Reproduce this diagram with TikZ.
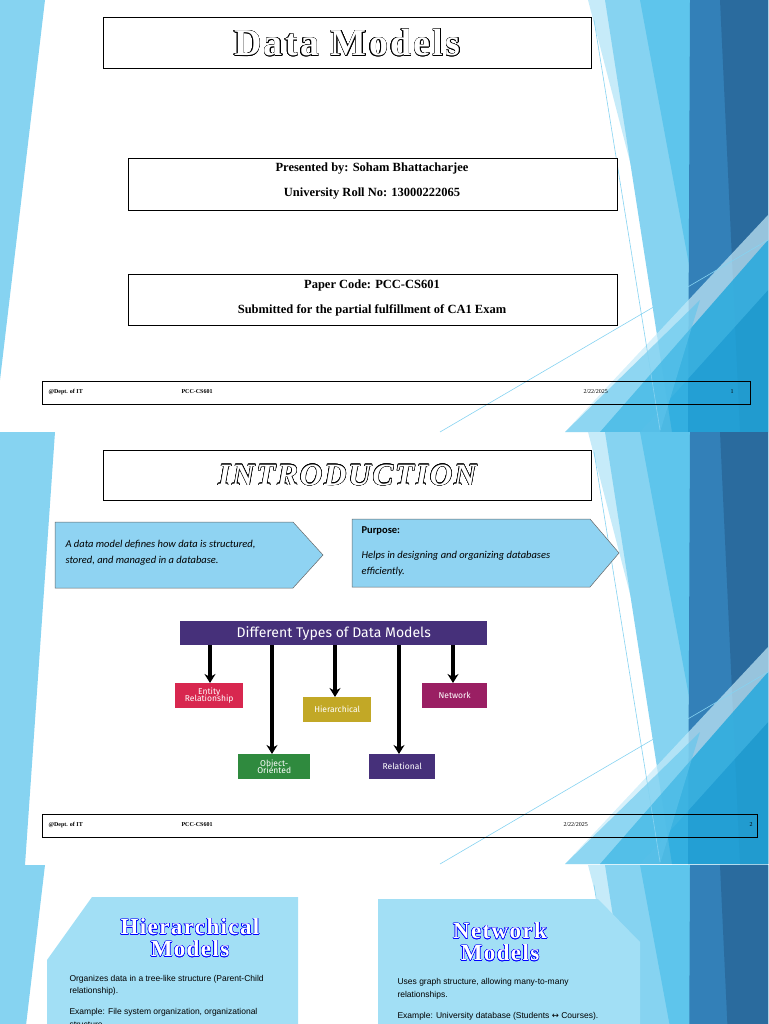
\documentclass[tikz,border=0pt]{standalone}
\usetikzlibrary{arrows.meta}
\usepackage{fontspec}
\setmainfont{Liberation Serif}
\setsansfont{Liberation Sans}
\newfontfamily\carlito{Carlito}
\newfontfamily\fira{Fira Sans}
\newfontfamily\dejavu{DejaVu Sans}
\newfontfamily\wideserif[LetterSpace=6]{Liberation Serif}
\usepackage{contour}
\contourlength{0.5pt}
\contournumber{16}
\definecolor{pale}{HTML}{C6EBF9}
\definecolor{lightb}{HTML}{86D3F1}
\definecolor{midb}{HTML}{5EC5EC}
\definecolor{darkb}{HTML}{2A6B9E}
\definecolor{darkc}{HTML}{3380B8}
\definecolor{cyanb}{HTML}{1FA7DC}
\definecolor{boxb}{HTML}{8FD3F2}
\definecolor{cardb}{HTML}{A2DFF5}
\definecolor{hdr}{HTML}{46307A}
\newcommand\slidedecor[1]{%
\begin{scope}[shift={(0,#1)}]
\fill[lightb] (0,0) -- (45,0) -- (0,380) -- cycle;
\fill[pale] (588,0) -- (768,0) -- (768,432) -- (700,432) -- cycle;
\fill[lightb] (605,0) -- (768,0) -- (768,432) -- (672,432) -- cycle;
\fill[midb] (640,0) -- (768,0) -- (768,432) -- (720,432) -- cycle;
\fill[darkc] (690,0) -- (768,0) -- (768,432) -- (688,432) -- cycle;
\fill[darkb] (720,0) -- (768,0) -- (768,432) -- (740,432) -- cycle;
\fill[pale,opacity=0.7] (565,432) -- (768,215) -- (768,290) -- (640,432) -- cycle;
\fill[cyanb,opacity=0.8] (600,432) -- (768,240) -- (768,432) -- cycle;
\fill[midb,opacity=0.6] (565,432) -- (700,300) -- (660,432) -- cycle;
\draw[lightb,line width=0.6pt] (594,20) -- (660,430);
\draw[lightb,line width=0.6pt] (440,432) -- (768,240);
\end{scope}}
\tikzset{
 frame/.style={draw=black,line width=0.8pt},
 foot/.style={font=\fontsize{6}{7}\selectfont\bfseries,anchor=west},
 tb/.style={font=\fontsize{12.5}{14}\selectfont\bfseries},
 child/.style={minimum height=25pt,text=white,font=\fira\fontsize{8.5}{9}\selectfont,align=center,inner sep=1pt},
 arr/.style={-{Stealth[length=9pt,width=11pt]},line width=3.4pt,black},
 body/.style={font=\sffamily\fontsize{8.5}{10}\selectfont,anchor=west},
 ital/.style={font=\carlito\itshape\fontsize{10.5}{12}\selectfont,anchor=west}
}
\begin{document}
\begin{tikzpicture}[x=1pt,y=-1pt]
\useasboundingbox (0,0) rectangle (768,1024);
\clip (0,0) rectangle (768,1024);
\slidedecor{0}
\slidedecor{432}
\slidedecor{865}
\fill[lightb] (0,432) -- (55,432) -- (25,865) -- (0,865) -- cycle;
% slide 1
\node[frame,minimum width=488pt,minimum height=51pt,anchor=north west,fill=white] (t1) at (103,17) {};
\node[font=\wideserif\fontsize{38}{40}\selectfont\bfseries] (t1t) at (t1.center) {\contour{black}{\textcolor{white}{Data Models}}};
\node[frame,fill=white,minimum width=489pt,minimum height=52pt,anchor=north west] (b1) at (128,158) {};
\node[tb] (b1a) at (372,169) {Presented by: Soham Bhattacharjee};
\node[tb] (b1b) at (372,194) {University Roll No: 13000222065};
\node[frame,fill=white,minimum width=489pt,minimum height=51pt,anchor=north west] (b2) at (128,274) {};
\node[tb] (b2a) at (372,285) {Paper Code: PCC-CS601};
\node[tb] (b2b) at (372,310) {Submitted for the partial fulfillment of CA1 Exam};
\node[frame,minimum width=708pt,minimum height=23pt,anchor=north west] (f1) at (42,381) {};
\node[foot] (f1a) at (45,392) {@Dept. of IT};
\node[foot] (f1b) at (178,392) {PCC-CS601};
\node[foot,font=\fontsize{6}{7}\selectfont] (f1c) at (580,392) {2/22/2025};
\node[foot,font=\fontsize{6}{7}\selectfont] (f1d) at (727,392) {1};
% slide 2
\node[frame,fill=white,minimum width=488pt,minimum height=50pt,anchor=north west] (t2) at (103,450) {};
\node[font=\wideserif\fontsize{31}{33}\selectfont\bfseries\itshape] (t2t) at (t2.center) {\contour{black}{\textcolor{white}{INTRODUCTION}}};
\draw[fill=boxb,draw=black!60,line width=0.5pt] (55,522) -- (293,522) -- (323,555) -- (293,588) -- (55,588) -- cycle;
\node[ital] (p1) at (62,545) {A data model defines how data is structured,};
\node[ital] (p2) at (62,561) {stored, and managed in a database.};
\draw[fill=boxb,draw=black!60,line width=0.5pt] (352,519) -- (590,519) -- (619,553) -- (590,587) -- (352,587) -- cycle;
\node[ital,font=\carlito\bfseries\fontsize{10.5}{12}\selectfont] (q0) at (358,531) {Purpose:};
\node[ital] (q1) at (358,556) {Helps in designing and organizing databases};
\node[ital] (q2) at (358,572) {efficiently.};
\node[fill=hdr,minimum width=307pt,minimum height=24pt,text=white,font=\fira\fontsize{14}{15}\selectfont,anchor=north west] (h) at (180,621) {Different Types of Data Models};
\node[child,fill={rgb,255:red,216;green,39;blue,79},minimum width=68pt,anchor=north west] (er) at (175,683) {Entity\\[-2pt]Relationship};
\node[child,fill={rgb,255:red,47;green,138;blue,62},minimum width=72pt,anchor=north west] (oo) at (238,754) {Object-\\[-2pt]Oriented};
\node[child,fill={rgb,255:red,194;green,168;blue,38},minimum width=68pt,anchor=north west] (hi) at (303,697) {Hierarchical};
\node[child,fill=hdr,minimum width=66pt,anchor=north west] (re) at (369,754) {Relational};
\node[child,fill={rgb,255:red,154;green,31;blue,99},minimum width=65pt,anchor=north west] (ne) at (422,683) {Network};
\draw[arr] (h.south -| 210,0) -- (er.north -| 210,0);
\draw[arr] (h.south -| 272,0) -- (oo.north -| 272,0);
\draw[arr] (h.south -| 335,0) -- (hi.north -| 335,0);
\draw[arr] (h.south -| 399,0) -- (re.north -| 399,0);
\draw[arr] (h.south -| 453,0) -- (ne.north -| 453,0);
\node[frame,minimum width=715pt,minimum height=23pt,anchor=north west] (f2) at (42,814) {};
\node[foot] (f2a) at (45,825) {@Dept. of IT};
\node[foot] (f2b) at (178,825) {PCC-CS601};
\node[foot,font=\fontsize{6}{7}\selectfont] (f2c) at (560,825) {2/22/2025};
\node[foot,font=\fontsize{6}{7}\selectfont] (f2d) at (746,825) {2};
% slide 3
\fill[cardb] (92,897) -- (298,897) -- (298,1024) -- (47,1024) -- (47,960) -- cycle;
\fill[cardb] (378,899) -- (598,899) -- (640,942) -- (640,1024) -- (378,1024) -- cycle;
\node[font=\wideserif\fontsize{23}{25}\selectfont\bfseries,align=center] (c1t) at (190,938) {\contour{blue}{\textcolor{white}{Hierarchical}}\\[-3pt]\contour{blue}{\textcolor{white}{Models}}};
\node[font=\wideserif\fontsize{23}{25}\selectfont\bfseries,align=center] (c2t) at (500,942) {\contour{blue}{\textcolor{white}{Network}}\\[-3pt]\contour{blue}{\textcolor{white}{Models}}};
\node[body] (c1a) at (66,979) {Organizes data in a tree-like structure (Parent-Child};
\node[body] (c1b) at (66,991) {relationship).};
\node[body] (c1c) at (66,1012) {Example: File system organization, organizational};
\node[body] (c1d) at (66,1025) {structure.};
\node[body] (c2a) at (394,982) {Uses graph structure, allowing many-to-many};
\node[body] (c2b) at (394,995) {relationships.};
\node[body] (c2c) at (394,1016) {Example: University database (Students {\dejavu ↔} Courses).};
\end{tikzpicture}
\end{document}
